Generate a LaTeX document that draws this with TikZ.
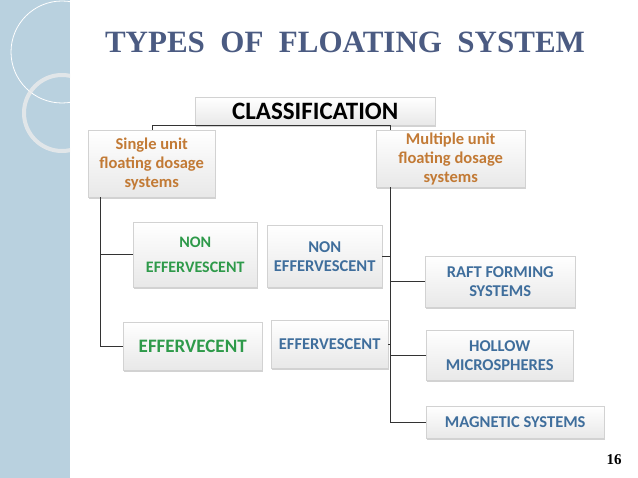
\documentclass[tikz,border=0pt]{standalone}
\usepackage{fontspec}
\setmainfont{Liberation Serif}
\newfontfamily\boxfont{Carlito}
\usetikzlibrary{shadows}
\definecolor{side}{HTML}{B9D1DF}
\definecolor{ttl}{HTML}{4B5B82}
\definecolor{org}{HTML}{C27A35}
\definecolor{grn}{HTML}{2E9A4A}
\definecolor{blu}{HTML}{3F6E9C}
\tikzset{
 bx/.style={draw=gray!35,top color=white,bottom color=gray!18,drop shadow={opacity=0.35,shadow xshift=1pt,shadow yshift=-1.5pt},
   font=\boxfont\bfseries\fontsize{16.5}{19}\selectfont,align=center,inner sep=0pt,anchor=north west},
 ln/.style={draw=black!80,line width=0.9pt}
}
\begin{document}
\begin{tikzpicture}[x=1pt,y=-1pt]
\useasboundingbox (0,0) rectangle (638,478);
\fill[white] (0,0) rectangle (638,478);
\fill[side] (0,0) rectangle (70,478);
\begin{scope}
\clip (0,0) rectangle (70,478);
\draw[white,line width=0.8pt] (62,52) circle (51);
\draw[white!85!gray,line width=4pt,opacity=0.8] (62,113) circle (38);
\end{scope}
\node[font=\bfseries\fontsize{31}{33}\selectfont,text=ttl] (title) at (345,42) {TYPES\ \ OF\ \ FLOATING\ \ SYSTEM};
\node[font=\bfseries\fontsize{15}{16}\selectfont] (pg) at (614,460) {16};
\node[bx,minimum width=240,minimum height=28,font=\boxfont\bfseries\fontsize{25}{26}\selectfont] (cls) at (195,97) {CLASSIFICATION};
\node[bx,minimum width=127,minimum height=67,text=org] (su) at (88,130) {Single unit\\floating dosage\\systems};
\node[bx,minimum width=149,minimum height=57,text=org] (mu) at (376,130) {Multiple unit\\floating dosage\\systems};
\node[bx,minimum width=124,minimum height=65,text=grn,font=\boxfont\bfseries\fontsize{16}{25}\selectfont] (ng) at (133,222) {NON\\EFFERVESCENT};
\node[bx,minimum width=139,minimum height=48,text=grn,font=\boxfont\bfseries\fontsize{19}{20}\selectfont] (eg) at (123,322) {EFFERVECENT};
\node[bx,minimum width=115,minimum height=62,text=blu] (nb) at (267,225) {NON\\EFFERVESCENT};
\node[bx,minimum width=117,minimum height=48,text=blu] (eb) at (271,320) {EFFERVESCENT};
\node[bx,minimum width=150,minimum height=51,text=blu] (raft) at (425,256) {RAFT FORMING\\SYSTEMS};
\node[bx,minimum width=147,minimum height=50,text=blu] (hol) at (426,330) {HOLLOW\\MICROSPHERES};
\node[bx,minimum width=178,minimum height=32,text=blu] (mag) at (426,406) {MAGNETIC SYSTEMS};
% connectors
\coordinate (t1) at (152,125); \coordinate (t2) at (390,125);
\draw[ln] (su.north -| t1) -- (t1) -- (t2) -- (mu.north -| t2);
\coordinate (sv) at (100,0);
\draw[ln] (su.south -| sv) |- (ng.west);
\draw[ln] (su.south -| sv) |- (eg.west);
\coordinate (mv) at (390,0);
\draw[ln] (mu.south -| mv) |- (mag.west);
\draw[ln] (nb.east) -- (nb.east -| mv);
\draw[ln] (eb.east) -- (eb.east -| mv);
\draw[ln] (raft.west) -- (raft.west -| mv);
\draw[ln] (hol.west) -- (hol.west -| mv);
\end{tikzpicture}
\end{document}
